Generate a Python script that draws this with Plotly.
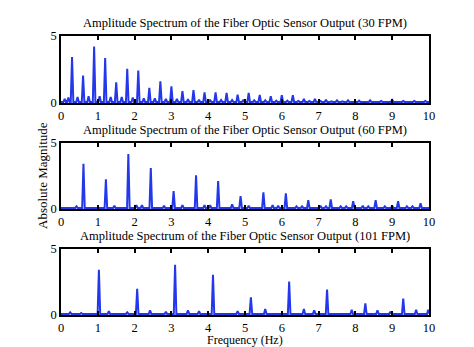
import plotly.graph_objects as go

# ---- data: peak frequencies (Hz) and amplitudes ----
f30 = [0.3, 0.6, 0.9, 1.2, 1.5, 1.8, 2.1, 2.4, 2.7, 3.0, 3.3, 3.6, 3.9, 4.2, 4.5,
       4.8, 5.1, 5.4, 5.7, 6.0, 6.3, 6.6, 6.9, 7.2, 7.5, 7.8, 8.1, 8.4, 8.7, 9.0, 9.3, 9.6, 9.9]
a30 = [3.43, 2.05, 4.22, 3.36, 1.54, 2.55, 2.42, 1.14, 1.62, 1.24, 0.88, 0.96, 0.8, 0.8, 0.76,
       0.63, 0.76, 0.6, 0.5, 0.58, 0.58, 0.3, 0.3, 0.25, 0.2, 0.2, 0.18, 0.2, 0.15, 0.22, 0.15, 0.15, 0.15]
f30_minor = [0.1, 0.2, 0.45, 0.75, 1.05, 1.35, 1.65, 1.95, 2.25, 2.55, 2.85, 3.15, 3.45, 3.75, 4.05,
             4.35, 4.65, 4.95, 5.25, 5.55, 5.85, 6.15, 6.45, 6.75, 7.05, 7.35, 7.65]
a30_minor = [0.3, 0.4, 0.45, 0.5, 0.5, 0.45, 0.45, 0.4, 0.35, 0.35, 0.3, 0.3, 0.28, 0.25, 0.25,
             0.22, 0.22, 0.2, 0.2, 0.2, 0.18, 0.18, 0.15, 0.15, 0.15, 0.12, 0.12]

f60 = [0.61, 1.22, 1.83, 2.44, 3.06, 3.67, 4.27, 4.88, 5.5, 6.11, 6.72, 7.33, 7.94, 8.55, 9.16, 9.77]
a60 = [3.43, 2.25, 4.17, 3.1, 1.36, 2.55, 2.12, 0.98, 1.26, 1.19, 0.66, 0.73, 0.6, 0.66, 0.6, 0.43]
f60_minor = [0.42, 1.45, 2.05, 2.2, 2.8, 3.3, 3.9, 4.05, 4.65, 5.1, 5.75, 5.9, 6.4, 6.55,
             7.05, 7.2, 7.6, 7.75, 8.2, 8.35, 8.8, 9.0, 9.4, 9.55]
a60_minor = [0.2, 0.25, 0.3, 0.3, 0.25, 0.3, 0.3, 0.3, 0.35, 0.25, 0.3, 0.25, 0.2, 0.2,
             0.25, 0.2, 0.2, 0.2, 0.25, 0.2, 0.2, 0.25, 0.2, 0.2]

f101 = [1.03, 2.07, 3.1, 4.13, 5.16, 6.2, 7.23, 8.27, 9.3]
a101 = [3.43, 1.98, 3.8, 3.05, 1.33, 2.53, 1.93, 0.88, 1.25]
f101_minor = [0.25, 0.55, 1.3, 1.8, 2.42, 2.85, 3.45, 3.75, 4.8, 5.55, 6.6, 6.88, 7.9, 8.6, 8.95, 9.65, 9.98]
a101_minor = [0.2, 0.15, 0.3, 0.2, 0.35, 0.25, 0.35, 0.3, 0.3, 0.45, 0.45, 0.35, 0.4, 0.35, 0.25, 0.4, 0.4]

titles = ["Amplitude Spectrum of the Fiber Optic Sensor Output (30 FPM)",
          "Amplitude Spectrum of the Fiber Optic Sensor Output (60 FPM)",
          "Amplitude Spectrum of the Fiber Optic Sensor Output (101 FPM)"]
x_ticks = list(range(0, 11))
y_ticks = [0, 5]
floor = 0.08
half_width = 0.035


def spectrum(freqs, amps, mf, ma):
    pk = sorted(list(zip(freqs, amps)) + list(zip(mf, ma)))
    xs, ys = [0.0], [floor]
    for f, a in pk:
        xs += [f - half_width, f, f + half_width]
        ys += [floor, a, floor]
    xs.append(10.0)
    ys.append(floor)
    return xs, ys


data = [(f30, a30, f30_minor, a30_minor),
        (f60, a60, f60_minor, a60_minor),
        (f101, a101, f101_minor, a101_minor)]

T, B = 36, 32
PH = 347.0 - T - B
domains_px = [(36, 103), (143, 209), (249, 315)]
title_px = [23, 130, 236]
FONT = "Liberation Serif"
BLUE = "rgb(35,55,235)"


def py(pix):
    return 1 - (pix - T) / PH


fig = go.Figure()
layout = dict(width=474, height=347, margin=dict(l=61, r=45, t=T, b=B),
              template="none",
              paper_bgcolor="white", plot_bgcolor="white", showlegend=False,
              font=dict(family=FONT, size=13, color="black"), annotations=[])

for i, (fr, am, mf, ma) in enumerate(data):
    xs, ys = spectrum(fr, am, mf, ma)
    xa = "x" if i == 0 else f"x{i+1}"
    ya = "y" if i == 0 else f"y{i+1}"
    fig.add_trace(go.Scatter(x=xs, y=ys, mode="lines", xaxis=xa, yaxis=ya,
                             line=dict(color=BLUE, width=2)))
    top, bot = domains_px[i]
    axcommon = dict(showline=True, linecolor="black", linewidth=1.5, mirror="ticks",
                    ticks="inside", ticklen=4, tickcolor="black", tickwidth=1.5,
                    showgrid=False, zeroline=False, automargin=False,
                    tickfont=dict(family=FONT, size=12.5))
    layout["xaxis" if i == 0 else f"xaxis{i+1}"] = dict(
        range=[0, 10], tickvals=x_ticks, anchor=ya, domain=[0, 1], **axcommon)
    layout["yaxis" if i == 0 else f"yaxis{i+1}"] = dict(
        range=[0, 5], tickvals=y_ticks, anchor=xa,
        domain=[max(0, py(bot)), min(1, py(top))], **axcommon)
    layout["annotations"].append(dict(
        text=titles[i], xref="paper", yref="paper", x=0.5, y=py(title_px[i]),
        xanchor="center", yanchor="middle", showarrow=False,
        font=dict(family=FONT, size=12.5, color="black")))

layout["annotations"].append(dict(
    text="Frequency (Hz)", xref="paper", yref="paper", x=0.5, y=py(339.5),
    xanchor="center", yanchor="middle", showarrow=False,
    font=dict(family=FONT, size=12, color="black")))
layout["annotations"].append(dict(
    text="Absolute Magnitude", xref="paper", yref="paper", x=-19 / 368, y=py(176),
    xanchor="center", yanchor="middle", showarrow=False, textangle=-90,
    font=dict(family=FONT, size=13, color="black")))

fig.update_layout(**layout)
fig.write_html("out.html")
